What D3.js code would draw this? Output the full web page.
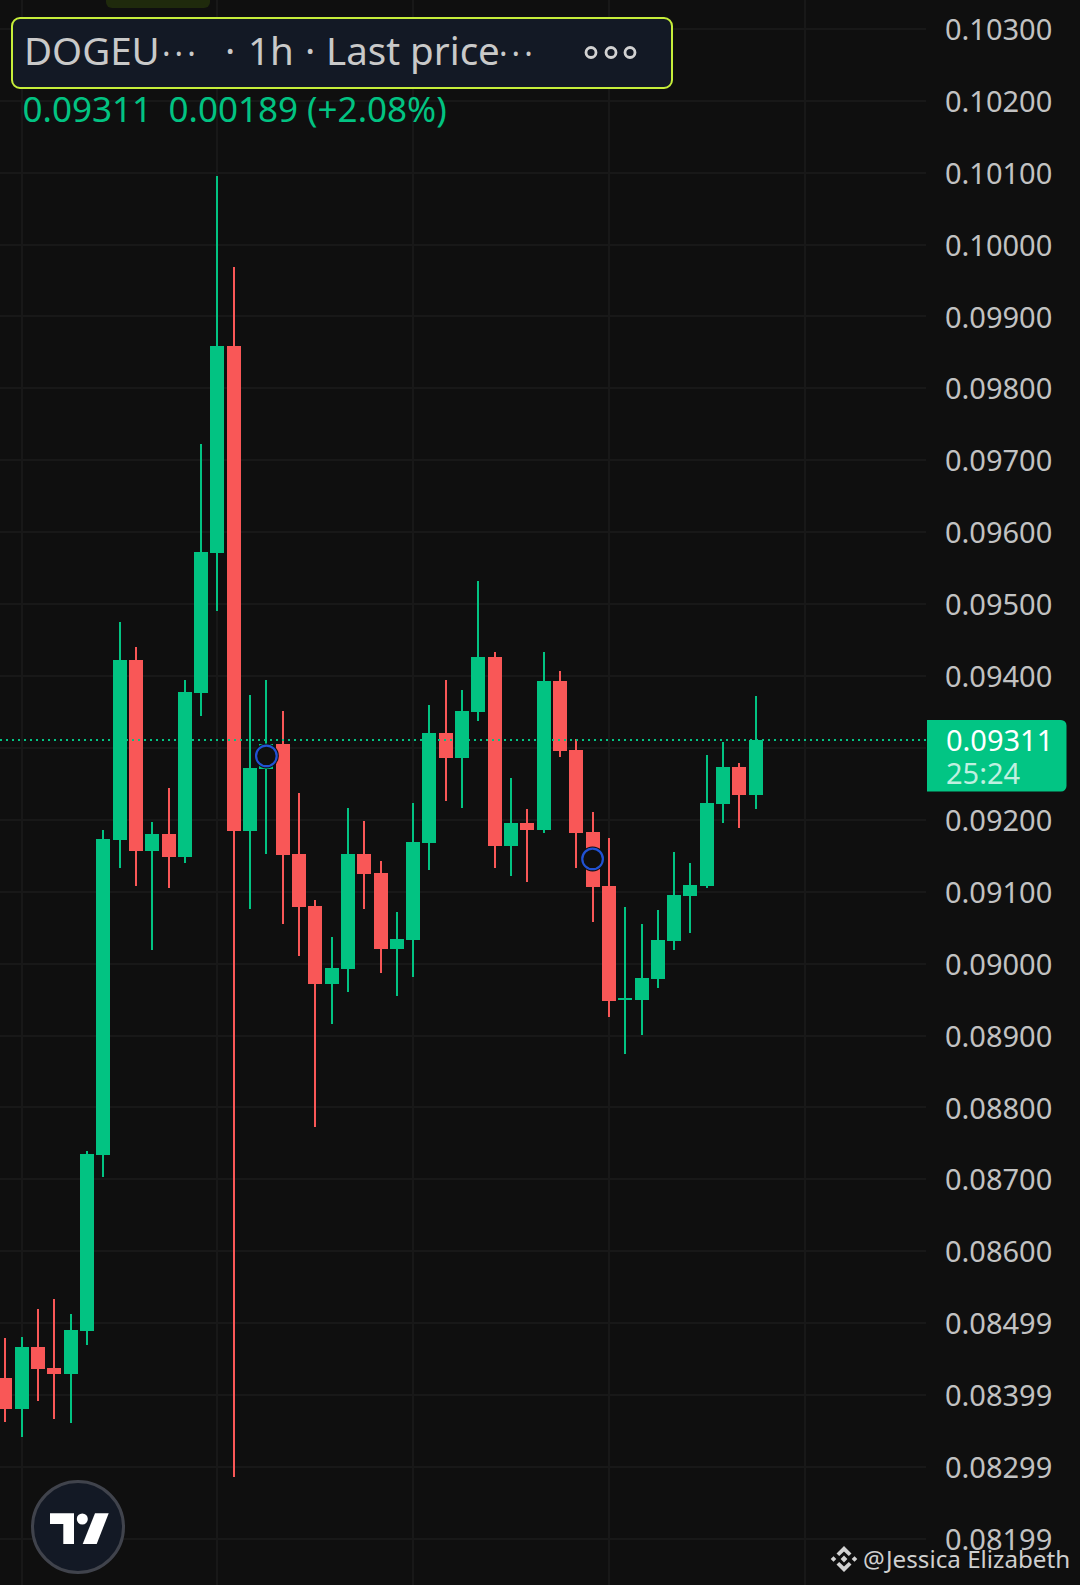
<!DOCTYPE html>
<html>
<head>
<meta charset="utf-8">
<script src="https://cdn.jsdelivr.net/npm/d3@7/dist/d3.min.js"></script>
<style>
html,body{margin:0;padding:0;background:#0f0f0f;overflow:hidden}
svg{display:block}
text{font-family:"Noto Sans",sans-serif}
</style>
</head>
<body>
<svg id="c" width="1080" height="1585"></svg>
<script>
const opens=[0.084238,0.083807,0.084669,0.084377,0.084293,0.084892,0.087339,0.091720,0.094224,0.091567,0.091804,0.091484,0.093765,0.095712,0.098591,0.091846,0.092708,0.093056,0.091526,0.090803,0.089718,0.089926,0.091526,0.091261,0.090204,0.090330,0.091679,0.093209,0.092861,0.093501,0.094266,0.091637,0.091957,0.091860,0.093932,0.092972,0.091832,0.091081,0.089495,0.089495,0.089787,0.090316,0.090942,0.091081,0.092221,0.092736,0.092346];
const highs=[0.084794,0.084808,0.085198,0.085337,0.085128,0.087395,0.091860,0.094752,0.094405,0.091971,0.092444,0.093946,0.097228,0.100955,0.099690,0.093737,0.093946,0.093515,0.092374,0.090886,0.090371,0.092165,0.091985,0.091428,0.090719,0.092235,0.093598,0.093946,0.093807,0.095323,0.094335,0.092583,0.092152,0.094335,0.094071,0.093125,0.092110,0.091748,0.090789,0.090552,0.090747,0.091554,0.091401,0.092903,0.093083,0.092791,0.093723];
const lows=[0.083626,0.083421,0.083918,0.083668,0.083612,0.084697,0.087033,0.091331,0.091081,0.090191,0.091053,0.091401,0.093445,0.094905,0.082861,0.090761,0.091526,0.090552,0.090107,0.087729,0.089161,0.089606,0.090761,0.089871,0.089551,0.089815,0.091303,0.092263,0.092165,0.093375,0.091331,0.091220,0.091136,0.091818,0.092875,0.091331,0.090580,0.089259,0.088744,0.089008,0.089662,0.090191,0.090427,0.091053,0.091957,0.091887,0.092152];
const closes=[0.083807,0.084669,0.084363,0.084293,0.084905,0.087353,0.091734,0.094224,0.091567,0.091804,0.091484,0.093779,0.095726,0.098591,0.091846,0.092722,0.093056,0.091512,0.090789,0.089718,0.089940,0.091526,0.091248,0.090204,0.090344,0.091693,0.093209,0.092861,0.093515,0.094266,0.091637,0.091957,0.091860,0.093932,0.092958,0.091818,0.091067,0.089481,0.089523,0.089801,0.090330,0.090955,0.091095,0.092235,0.092736,0.092346,0.093111];
const gridPrices=[0.103,0.102,0.101,0.100,0.099,0.098,0.097,0.096,0.095,0.094,0.093,0.092,0.091,0.090,0.089,0.088,0.087,0.086,0.085,0.084,0.083,0.082];
const tickLabels=["0.10300","0.10200","0.10100","0.10000","0.09900","0.09800","0.09700","0.09600","0.09500","0.09400","","0.09200","0.09100","0.09000","0.08900","0.08800","0.08700","0.08600","0.08499","0.08399","0.08299","0.08199"];
const timeGrid=[1,13,25,37,49];
const lastPrice=0.09311;
const markerIndex=[16,36];
const markerPrice=[0.092889,0.091456];

const GREEN="#02c382",RED="#f95757",BG="#0f0f0f",GRID="#181818",TXT="#c2c2c2";
const svg=d3.select("#c");
svg.append("rect").attr("width",1080).attr("height",1585).attr("fill",BG);

const y=d3.scaleLinear().domain([0.103,0.082]).range([28.8,1538.9]);
const x=d3.scaleLinear().domain([0,46]).range([5.42,755.68]);

// grid
const gv=svg.append("g").attr("shape-rendering","crispEdges");
gv.selectAll("line.v").data(timeGrid).join("line").attr("class","v")
  .attr("x1",d=>x(d)).attr("x2",d=>x(d)).attr("y1",0).attr("y2",1585)
  .attr("stroke",GRID).attr("stroke-width",2);
gv.selectAll("line.h").data(gridPrices).join("line").attr("class","h")
  .attr("x1",0).attr("x2",926).attr("y1",d=>y(d)).attr("y2",d=>y(d))
  .attr("stroke",GRID).attr("stroke-width",2);

// axis
const axis=d3.axisRight(y).tickValues(gridPrices).tickSize(0).tickPadding(0)
  .tickFormat((d,i)=>tickLabels[i]);
const ag=svg.append("g").attr("transform","translate(945,0)").call(axis);
ag.select(".domain").remove();
ag.selectAll("text").attr("fill",TXT).attr("font-size",29).attr("dy",0)
  .attr("y",10.6).attr("x",0).style("font-family",'"Noto Sans",sans-serif');

// candles
const idx=d3.range(opens.length);
const col=i=>closes[i]>=opens[i]?GREEN:RED;
const cg=svg.append("g").attr("shape-rendering","crispEdges");
cg.selectAll("rect.w").data(idx).join("rect").attr("class","w")
  .attr("x",i=>Math.round(x(i))-1).attr("width",2)
  .attr("y",i=>y(highs[i])).attr("height",i=>y(lows[i])-y(highs[i]))
  .attr("fill",col);
cg.selectAll("rect.b").data(idx).join("rect").attr("class","b")
  .attr("x",i=>Math.round(x(i))-7).attr("width",14)
  .attr("y",i=>y(Math.max(opens[i],closes[i])))
  .attr("height",i=>Math.max(2,Math.abs(y(opens[i])-y(closes[i]))))
  .attr("fill",col);

// last price line
svg.append("line").attr("x1",0).attr("x2",927).attr("y1",y(lastPrice)).attr("y2",y(lastPrice))
  .attr("stroke",GREEN).attr("stroke-width",2).attr("stroke-dasharray","2 4").attr("shape-rendering","crispEdges");

// markers
const mg=svg.append("g");
markerIndex.forEach((m,k)=>{
  mg.append("circle").attr("cx",x(m)).attr("cy",y(markerPrice[k])).attr("r",12.5).attr("fill",BG);
  mg.append("circle").attr("cx",x(m)).attr("cy",y(markerPrice[k])).attr("r",10.3)
    .attr("fill",BG).attr("stroke","#2152d3").attr("stroke-width",2.2);
});

// price label
svg.append("path").attr("d","M927 720H1061a5.5 5.5 0 0 1 5.5 5.5V786a5.5 5.5 0 0 1 -5.5 5.5H927Z").attr("fill","#02c584");
svg.append("text").attr("x",946).attr("y",750.5).attr("font-size",29).attr("fill","#fff").text(d3.format(".5f")(lastPrice));
svg.append("text").attr("x",946).attr("y",783.5).attr("font-size",29).attr("fill","#fff").attr("fill-opacity",0.75).text("25:24");

// top stub
svg.append("path").attr("d","M106 0H210V2a6 6 0 0 1 -6 6H112a6 6 0 0 1 -6 -6Z").attr("fill","#1f2a0c");

// header box
svg.append("rect").attr("x",12).attr("y",18).attr("width",660).attr("height",70).attr("rx",8)
  .attr("fill","#131925").attr("stroke","#c6ee3a").attr("stroke-width",2);
const H="#c9c9c9";
[["DOGEU",24],["·",225],["1h",248],["·",305],["Last price",326]].forEach(([t,px])=>{
  svg.append("text").attr("x",px).attr("y",65).attr("font-size",38.5).attr("fill",H).text(t);
});
[["···",162],["···",499]].forEach(([t,px])=>{
  svg.append("text").attr("x",px).attr("y",65).attr("font-size",32).attr("letter-spacing",4).attr("fill",H).text(t);
});
[591,611,630].forEach(cx=>{
  svg.append("circle").attr("cx",cx).attr("cy",52.5).attr("r",5).attr("fill","none").attr("stroke","#d2d2d2").attr("stroke-width",2.8);
});
svg.append("text").attr("x",22.5).attr("y",122).attr("font-size",35).attr("fill",GREEN).text("0.09311");
svg.append("text").attr("x",168.5).attr("y",122).attr("font-size",35).attr("fill",GREEN).text("0.00189 (+2.08%)");

// logo
const lg=svg.append("g").attr("transform","translate(0,1270)");
lg.append("circle").attr("cx",78).attr("cy",257).attr("r",45.5).attr("fill","#131925").attr("stroke","#40434c").attr("stroke-width",3);
lg.append("path").attr("fill","#fff").attr("d","M50 243.3H74V274H63.3V254H50Z");
lg.append("circle").attr("cx",82.3).attr("cy",249).attr("r",5.5).attr("fill","#fff");
lg.append("path").attr("fill","#fff").attr("d","M95 243.3H108.7L96.7 274H82.7Z");

// watermark
const wm=svg.append("g").attr("transform","translate(844,1559)").attr("fill","#d2d2d2");
const dia=(cx,cy,r)=>`M${cx-r} ${cy}L${cx} ${cy-r}L${cx+r} ${cy}L${cx} ${cy+r}Z`;
wm.append("path").attr("d",dia(0,0,3.4)+dia(-10.5,0,2.8)+dia(10.5,0,2.8));
wm.append("path").attr("d","M-7.5 -5.5L0 -13L7.5 -5.5L4.8 -3L0 -7.6L-4.8 -3Z");
wm.append("path").attr("d","M-7.5 5.5L0 13L7.5 5.5L4.8 3L0 7.6L-4.8 3Z");
svg.append("text").attr("x",863).attr("y",1568).attr("font-size",24.2).attr("fill","#cfcfcf").text("@");
svg.append("text").attr("x",886).attr("y",1568).attr("font-size",24.2).attr("fill","#cfcfcf").text("Jessica Elizabeth");
</script>
</body>
</html>
